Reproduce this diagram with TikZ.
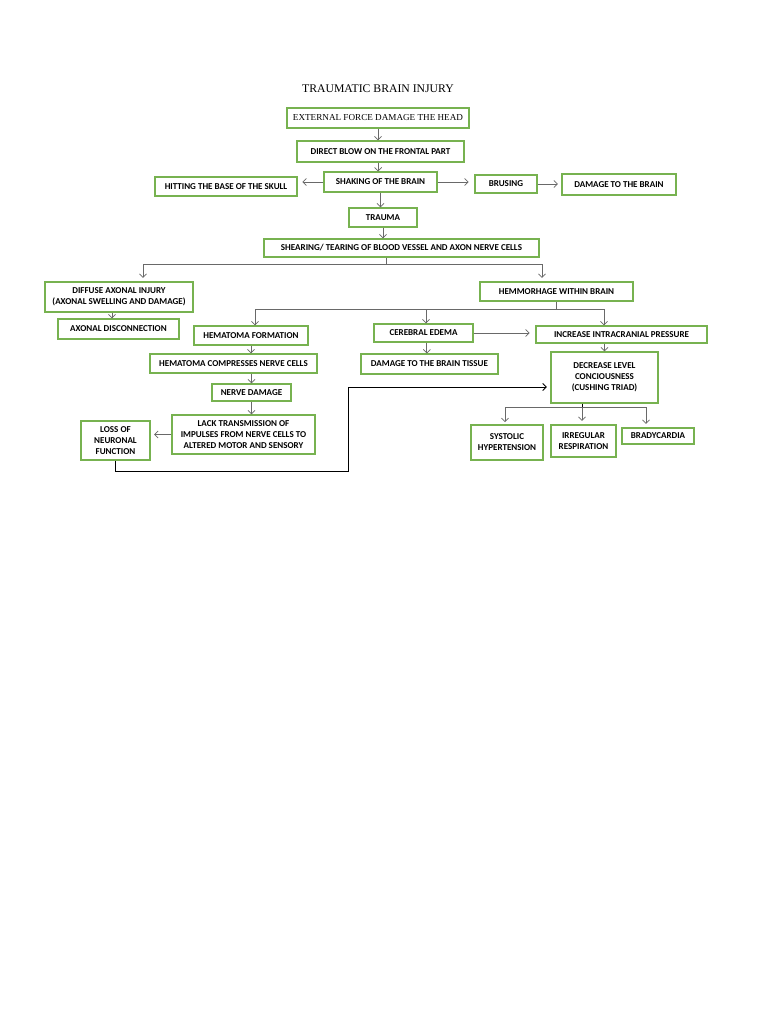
\documentclass[tikz,border=0pt]{standalone}
\usepackage{fontspec}
\setmainfont{Liberation Serif}
\newfontfamily\boxfont{Carlito}
\usetikzlibrary{arrows.meta}
\definecolor{boxgreen}{RGB}{119,178,80}
\definecolor{linegray}{RGB}{105,105,105}

\begin{document}
\begin{tikzpicture}[x=0.03cm,y=-0.03cm,
    box/.style={draw=boxgreen, line width=1pt, inner sep=1pt, align=center,
        font=\boxfont\bfseries\fontsize{7.7}{9.4}\selectfont},
    arr/.style={draw=linegray, line width=0.6pt, -{Straight Barb[length=3pt,width=6pt]}},
    lin/.style={draw=linegray, line width=0.6pt},
    blk/.style={draw=black, line width=0.8pt}]
    \useasboundingbox[fill=white] (0,0) rectangle (768,1024);

    %% TITLE
    \node (title) at (378,89) {\fontsize{10}{12}\selectfont TRAUMATIC BRAIN INJURY};

    %% TOP CHAIN
    \node[box, font=\fontsize{7.8}{9}\selectfont, minimum width=5.46cm, minimum height=0.6cm] (ext) at (378,118) {EXTERNAL FORCE DAMAGE THE HEAD};
    \node[box, minimum width=5.01cm, minimum height=0.63cm] (direct) at (380.5,151.5) {DIRECT BLOW ON THE FRONTAL PART};
    \node[box, minimum width=3.39cm, minimum height=0.6cm] (shaking) at (380.5,182) {SHAKING OF THE BRAIN};
    \node[box, minimum width=4.26cm, minimum height=0.57cm] (hitting) at (226,186.5) {HITTING THE BASE OF THE SKULL};
    \node[box, minimum width=1.86cm, minimum height=0.54cm] (brusing) at (506,184) {BRUSING};
    \node[box, minimum width=3.42cm, minimum height=0.63cm] (dmgbrain) at (619,184.5) {DAMAGE TO THE BRAIN};
    \node[box, minimum width=2.04cm, minimum height=0.57cm] (trauma) at (383,217.5) {TRAUMA};
    \node[box, minimum width=8.25cm, minimum height=0.54cm] (shearing) at (401.5,248) {SHEARING/ TEARING OF BLOOD VESSEL AND AXON NERVE CELLS};

    % Arrows
    \draw[arr] (ext.south) -- (ext.south |- direct.north);
    \draw[arr] ([xshift=-0.07cm]direct.south) -- ([xshift=-0.07cm]direct.south |- shaking.north);
    \draw[arr, shorten >=4pt] (shaking.west) -- (hitting.east |- shaking.west);
    \draw[arr, shorten >=5pt] (shaking.east) -- (brusing.west |- shaking.east);
    \draw[arr, shorten >=3pt] (brusing.east) -- (dmgbrain.west |- brusing.east);
    \draw[arr] (shaking.south) -- (shaking.south |- trauma.north);
    \draw[arr] (trauma.south) -- (trauma.south |- shearing.north);

    %% LEFT BRANCH
    \node[box, minimum width=4.44cm, minimum height=0.9cm] (diffuse) at (119,297) {DIFFUSE AXONAL INJURY\\(AXONAL SWELLING AND DAMAGE)};
    \node[box, minimum width=3.63cm, minimum height=0.6cm] (axdisc) at (118.5,329) {AXONAL DISCONNECTION};

    %% RIGHT BRANCH
    \node[box, minimum width=4.59cm, minimum height=0.57cm] (hemo) at (556.5,291.5) {HEMMORHAGE WITHIN BRAIN};

    % Split below shearing
    \coordinate (split) at (386,264);
    \coordinate (splitL) at (143,264);
    \coordinate (splitR) at (542,264);
    \draw[lin] (split |- shearing.south) -- (split);
    \draw[lin] (splitL) -- (splitR);
    \draw[arr, shorten >=3pt] (splitL) -- (splitL |- diffuse.north);
    \draw[arr, shorten >=3pt] (splitR) -- (splitR |- hemo.north);
    \draw[arr] ([xshift=-0.21cm]diffuse.south) -- ([xshift=-0.21cm]diffuse.south |- axdisc.north);

    %% HEMATOMA COLUMN
    \node[box, minimum width=3.42cm, minimum height=0.57cm] (hemform) at (251,335.5) {HEMATOMA FORMATION};
    \node[box, minimum width=5.01cm, minimum height=0.57cm] (hemcomp) at (233.5,363.5) {HEMATOMA COMPRESSES NERVE CELLS};
    \node[box, minimum width=2.37cm, minimum height=0.51cm] (nerve) at (251.5,392.5) {NERVE DAMAGE};
    \node[box, minimum width=4.29cm, minimum height=1.17cm] (lack) at (243.5,434.5) {LACK TRANSMISSION OF\\IMPULSES FROM NERVE CELLS TO\\ALTERED MOTOR AND SENSORY};
    \node[box, minimum width=2.07cm, minimum height=1.17cm] (loss) at (115.5,440.5) {LOSS OF\\NEURONAL\\FUNCTION};

    %% EDEMA COLUMN
    \node[box, minimum width=2.97cm, minimum height=0.54cm] (edema) at (423.5,333) {CEREBRAL EDEMA};
    \node[box, minimum width=4.11cm, minimum height=0.6cm] (tissue) at (429.5,364) {DAMAGE TO THE BRAIN TISSUE};

    %% PRESSURE COLUMN
    \node[box, minimum width=5.13cm, minimum height=0.51cm] (icp) at (621.5,334.5) {INCREASE INTRACRANIAL PRESSURE};
    \node[box, minimum width=3.21cm, minimum height=1.53cm] (decrease) at (604.5,377.5) {DECREASE LEVEL\\CONCIOUSNESS\\(CUSHING TRIAD)};
    \node[box, minimum width=2.16cm, minimum height=1.05cm] (systolic) at (507,442.5) {SYSTOLIC\\HYPERTENSION};
    \node[box, minimum width=1.95cm, minimum height=0.96cm] (irregular) at (583.5,441) {IRREGULAR\\RESPIRATION};
    \node[box, minimum width=2.16cm, minimum height=0.48cm] (brady) at (658,436) {BRADYCARDIA};

    % Split below hemorrhage
    \coordinate (hemL) at (255,309);
    \coordinate (hemM) at (426,309);
    \coordinate (hemR) at (604,309);
    \draw[lin] (hemo.south) -- (hemo.south |- hemL);
    \draw[lin] (hemL) -- (hemR);
    \draw[arr] (hemL) -- (hemL |- hemform.north);
    \draw[arr] (hemM) -- (hemM |- edema.north);
    \draw[arr] (hemR) -- (hemR |- icp.north);

    % Arrows down the columns
    \draw[arr] (hemform.south) -- (hemform.south |- hemcomp.north);
    \draw[arr] (nerve.north |- hemcomp.south) -- (nerve.north);
    \draw[arr] (nerve.south) -- (nerve.south |- lack.north);
    \draw[arr, shorten >=3pt] (lack.west) -- (loss.east |- lack.west);
    \draw[arr] ([xshift=0.1cm]edema.south) -- ([xshift=0.1cm]edema.south |- tissue.north);
    \draw[arr, shorten >=5pt] (edema.east) -- (icp.west |- edema.east);
    \draw[arr] (decrease.north |- icp.south) -- (decrease.north);

    % Loss of function back to consciousness
    \coordinate (bend) at (348,471);
    \draw[blk, -{Straight Barb[length=3pt,width=6pt]}, shorten >=3pt] (loss.south) |- (bend) |- ([yshift=-0.285cm]decrease.west);

    % Cushing triad
    \coordinate (tri) at (582,407);
    \coordinate (triL) at (505,407);
    \coordinate (triR) at (646,407);
    \draw[blk] (tri |- decrease.south) -- (tri);
    \draw[lin] (triL) -- (triR);
    \draw[arr, shorten >=2pt] (triL) -- (triL |- systolic.north);
    \draw[arr, shorten >=3pt] (tri) -- (tri |- irregular.north);
    \draw[arr, shorten >=3pt] (triR) -- (triR |- brady.north);
\end{tikzpicture}
\end{document}
